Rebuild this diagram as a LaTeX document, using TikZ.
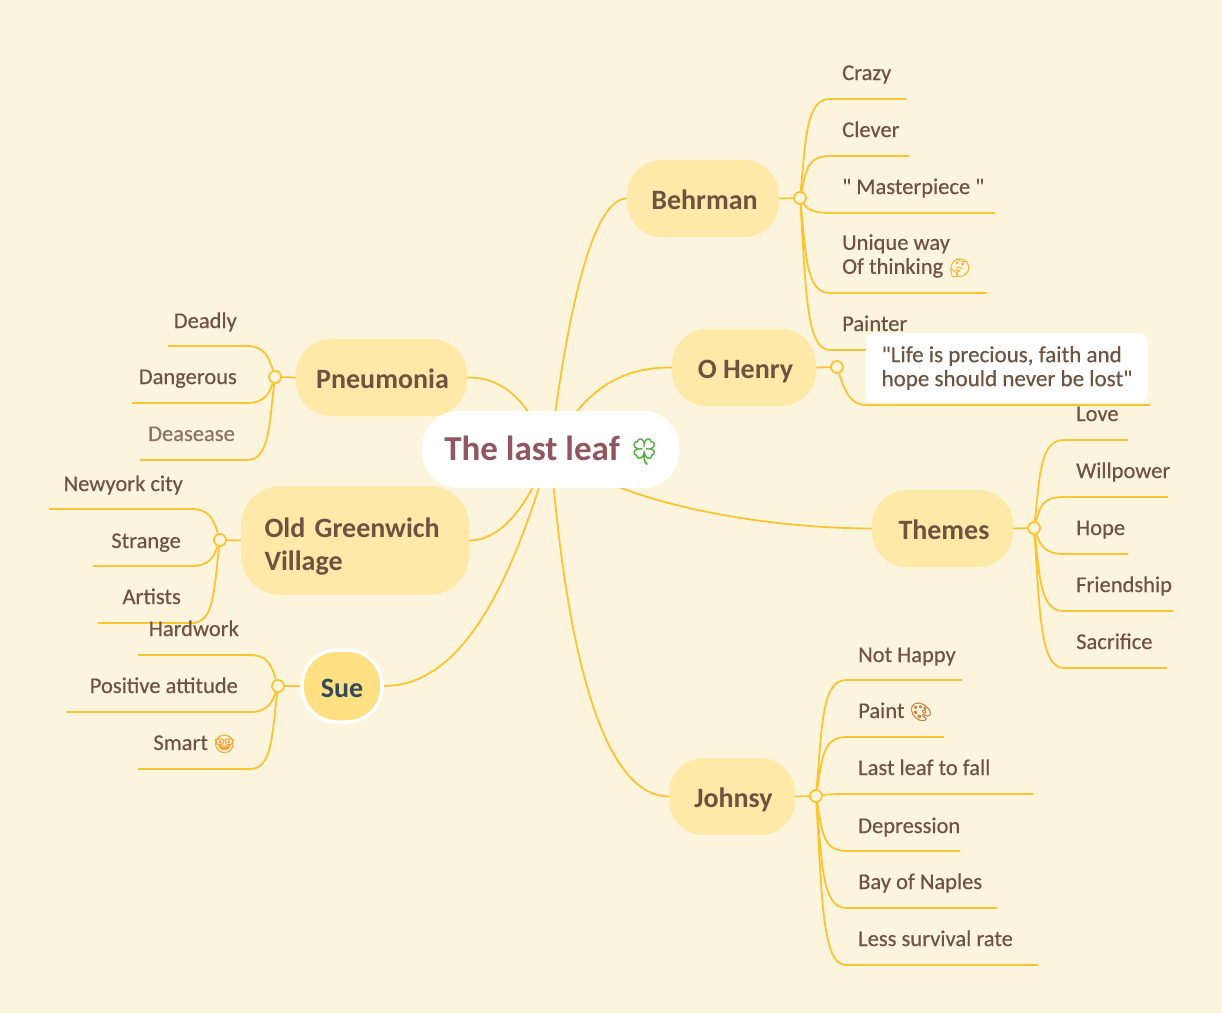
\documentclass[tikz,border=0pt]{standalone}
\usepackage{fontspec}
\setmainfont{Carlito}[Ligatures=TeXOff]
\newfontfamily\leaffont{Carlito}[Ligatures=TeXOff,FakeBold=0.35]
\newfontfamily\emojifont{Noto Emoji}[FakeBold=1.2]
\usetikzlibrary{backgrounds}
\definecolor{paper}{HTML}{FCF4DC}
\definecolor{branchcol}{HTML}{FBC433}
\definecolor{mainfill}{HTML}{FFE9A8}
\definecolor{suefill}{HTML}{FFE082}
\definecolor{inkcol}{HTML}{6D5340}
\definecolor{rootink}{HTML}{915660}
\definecolor{sueink}{HTML}{34495E}
\newcommand{\leafemoji}[2]{{\emojifont\fontsize{18}{18}\selectfont\textcolor[HTML]{#1}{#2}}}
\tikzset{
    rootnode/.style={fill=white,rounded corners=36pt,minimum width=257pt,minimum height=77pt,text=rootink,font=\fontsize{35}{36}\selectfont\bfseries,text height=22pt,text depth=0pt},
    mainnode/.style={fill=mainfill,rounded corners=35pt,minimum height=77pt,text=inkcol,font=\fontsize{28}{33}\selectfont\bfseries,align=left,text height=22pt,text depth=0pt},
    leaftext/.style={inner sep=0pt,text=inkcol,font=\fontsize{22.5}{24}\leaffont,align=left},
    branch/.style={draw=branchcol,line width=1.8pt},
    joint/.style={circle,draw=branchcol,fill=paper,line width=1.8pt,minimum size=12pt,inner sep=0pt}
}
\begin{document}
\begin{tikzpicture}[x=1pt,y=-1pt]
    \useasboundingbox (0,0) rectangle (1222,1013);

    \node[rootnode] (lastleaf) at (550.5,449.5) {\hspace*{4pt}The last leaf {\emojifont\fontsize{26}{26}\selectfont\textcolor[HTML]{4FAE3C}{🍀}}};

    \node[mainnode,minimum width=152pt] (behrman) at (703,198.5) {\hspace*{3pt}Behrman};
    \node[mainnode,minimum width=144pt] (ohenry) at (744,367.5) {\hspace*{3pt}O Henry};
    \node[mainnode,minimum width=141pt] (themes) at (942.5,528.5) {\hspace*{3pt}Themes};
    \node[mainnode,minimum width=126pt] (johnsy) at (732,796.5) {\hspace*{3pt}Johnsy};
    \node[mainnode,minimum width=171pt] (pneumonia) at (381.5,377.5) {\hspace*{2pt}Pneumonia};
    \node[mainnode,minimum width=228pt,minimum height=109pt,rounded corners=40pt,text height=,text depth=26pt,text width=181pt] (greenwich) at (355,540.5) {Old Greenwich\\Village};
    \node[mainnode,minimum width=80pt,minimum height=72pt,fill=suefill,draw=white,line width=3.5pt,text=sueink] (sue) at (342,686) {Sue};

    \node[joint] (behrmandot) at (800,198) {};
    \node[joint] (ohenrydot) at (837,367) {};
    \node[joint] (themesdot) at (1034,528) {};
    \node[joint] (johnsydot) at (816,796) {};
    \node[joint] (pneumoniadot) at (275,377) {};
    \node[joint] (greenwichdot) at (220,540) {};
    \node[joint] (suedot) at (278,686) {};

    \node[leaftext,anchor=base west] (crazy) at (842,80) {Crazy};
    \node[leaftext,anchor=base west] (clever) at (842,137) {Clever};
    \node[leaftext,anchor=base west] (masterpiece) at (842,194) {" Masterpiece "};
    \node[leaftext,anchor=west] (unique) at (842,256) {Unique way\\Of thinking \leafemoji{F2B63C}{🤔}};
    \node[leaftext,anchor=base west] (painter) at (842,331) {Painter};

    \node[leaftext,anchor=base west] (love) at (1076,421) {Love};
    \node[leaftext,anchor=base west] (willpower) at (1076,478) {Willpower};
    \node[leaftext,anchor=base west] (hope) at (1076,535) {Hope};
    \node[leaftext,anchor=base west] (friendship) at (1076,592) {Friendship};
    \node[leaftext,anchor=base west] (sacrifice) at (1076,649) {Sacrifice};

    \node[leaftext,anchor=base west] (nothappy) at (858,662) {Not Happy};
    \node[leaftext,anchor=base west] (paint) at (858,718) {Paint \leafemoji{C9803C}{🎨}};
    \node[leaftext,anchor=base west] (lastfall) at (858,775) {Last leaf to fall};
    \node[leaftext,anchor=base west] (depression) at (858,833) {Depression};
    \node[leaftext,anchor=base west] (naples) at (858,889) {Bay of Naples};
    \node[leaftext,anchor=base west] (survival) at (858,946) {Less survival rate};

    \node[leaftext,anchor=base east] (deadly) at (237,328) {Deadly};
    \node[leaftext,anchor=base east] (dangerous) at (237,384) {Dangerous};
    \node[leaftext,anchor=base east,text=inkcol!80!paper] (deasease) at (235,441) {Deasease};
    \node[leaftext,anchor=base east] (newyork) at (183,491) {Newyork city};
    \node[leaftext,anchor=base east] (strange) at (181,548) {Strange};
    \node[leaftext,anchor=base east] (artists) at (181,604) {Artists};
    \node[leaftext,anchor=base east] (hardwork) at (239,636) {Hardwork};
    \node[leaftext,anchor=base east] (positive) at (238,693) {Positive attitude};
    \node[leaftext,anchor=base east] (smart) at (236,750) {Smart \leafemoji{F0A63A}{🤓}};

    \node[fill=white,rounded corners=9pt,minimum width=282pt,minimum height=70pt,text=inkcol,font=\fontsize{23}{24}\leaffont,align=left] (quote) at (1007,368) {"Life is precious, faith and\\hope should never be lost"};

    \coordinate (crazyend) at (906,99);
    \coordinate (cleverend) at (909,156);
    \coordinate (masterend) at (995,213);
    \coordinate (uniqueend) at (987,293);
    \coordinate (painterend) at (925,350);
    \coordinate (quoteend) at (1150,405);
    \coordinate (loveend) at (1128,440);
    \coordinate (willend) at (1168,497);
    \coordinate (hopeend) at (1128,554);
    \coordinate (friendend) at (1173,611);
    \coordinate (sacrificeend) at (1167,668);
    \coordinate (happyend) at (962,680);
    \coordinate (paintend) at (944,737);
    \coordinate (fallend) at (1033,794);
    \coordinate (depressionend) at (960,851);
    \coordinate (naplesend) at (997,908);
    \coordinate (survivalend) at (1038,965);
    \coordinate (deadlyend) at (168,346);
    \coordinate (dangerousend) at (132,403);
    \coordinate (deaseaseend) at (140,460);
    \coordinate (newyorkend) at (49,509);
    \coordinate (strangeend) at (93,566);
    \coordinate (artistsend) at (98,623);
    \coordinate (hardworkend) at (138,655);
    \coordinate (positiveend) at (66,712);
    \coordinate (smartend) at (138,769);

    \begin{scope}[on background layer]
        \fill[paper] (0,0) rectangle (1222,1013);

        \draw[branch] (lastleaf.center) .. controls (565,330) and (590,198) .. (behrman.west);
        \draw[branch] (lastleaf.center) .. controls (580,400) and (610,367) .. (ohenry.west);
        \draw[branch] (lastleaf.center) .. controls (610,500) and (750,528) .. (themes.west);
        \draw[branch] (lastleaf.center) .. controls (565,640) and (600,796) .. (johnsy.west);
        \draw[branch] (lastleaf.center) .. controls (530,410) and (510,377) .. (pneumonia.east);
        \draw[branch] (lastleaf.center) .. controls (530,500) and (505,540) .. (greenwich.east);
        \draw[branch] (lastleaf.center) .. controls (510,590) and (460,686) .. (sue.east);

        \draw[branch] (behrman.east) -- (behrmandot);
        \draw[branch] (ohenry.east) -- (ohenrydot);
        \draw[branch] (themes.east) -- (themesdot);
        \draw[branch] (johnsy.east) -- (johnsydot);
        \draw[branch] (pneumonia.west) -- (pneumoniadot);
        \draw[branch] (greenwich.west) -- (greenwichdot);
        \draw[branch] (sue.west) -- (suedot);

        \draw[branch] (behrmandot) .. controls (806,138) and (806,99) .. (830,99) -- (crazyend);
        \draw[branch] (behrmandot) .. controls (806,173) and (806,156) .. (830,156) -- (cleverend);
        \draw[branch] (behrmandot) .. controls (806,207) and (810,213) .. (830,213) -- (masterend);
        \draw[branch] (behrmandot) .. controls (806,255) and (806,293) .. (830,293) -- (uniqueend);
        \draw[branch] (behrmandot) .. controls (806,289) and (806,350) .. (830,350) -- (painterend);

        \draw[branch] (ohenrydot) .. controls (843,385) and (848,405) .. (866,405) -- (quoteend);

        \draw[branch] (themesdot) .. controls (1040,475) and (1040,440) .. (1064,440) -- (loveend);
        \draw[branch] (themesdot) .. controls (1040,509) and (1040,497) .. (1064,497) -- (willend);
        \draw[branch] (themesdot) .. controls (1040,544) and (1044,554) .. (1064,554) -- (hopeend);
        \draw[branch] (themesdot) .. controls (1040,578) and (1040,611) .. (1064,611) -- (friendend);
        \draw[branch] (themesdot) .. controls (1040,612) and (1040,668) .. (1064,668) -- (sacrificeend);

        \draw[branch] (johnsydot) .. controls (822,726) and (822,680) .. (846,680) -- (happyend);
        \draw[branch] (johnsydot) .. controls (822,761) and (822,737) .. (846,737) -- (paintend);
        \draw[branch] (johnsydot) .. controls (822,795) and (830,794) .. (846,794) -- (fallend);
        \draw[branch] (johnsydot) .. controls (822,829) and (822,851) .. (846,851) -- (depressionend);
        \draw[branch] (johnsydot) .. controls (822,863) and (822,908) .. (846,908) -- (naplesend);
        \draw[branch] (johnsydot) .. controls (822,897) and (822,965) .. (846,965) -- (survivalend);

        \draw[branch] (pneumoniadot) .. controls (269,358) and (265,346) .. (247,346) -- (deadlyend);
        \draw[branch] (pneumoniadot) .. controls (269,393) and (265,403) .. (247,403) -- (dangerousend);
        \draw[branch] (pneumoniadot) .. controls (269,427) and (269,460) .. (247,460) -- (deaseaseend);

        \draw[branch] (greenwichdot) .. controls (214,521) and (210,509) .. (192,509) -- (newyorkend);
        \draw[branch] (greenwichdot) .. controls (214,556) and (210,566) .. (192,566) -- (strangeend);
        \draw[branch] (greenwichdot) .. controls (214,590) and (214,623) .. (192,623) -- (artistsend);

        \draw[branch] (suedot) .. controls (272,667) and (268,655) .. (250,655) -- (hardworkend);
        \draw[branch] (suedot) .. controls (272,702) and (268,712) .. (250,712) -- (positiveend);
        \draw[branch] (suedot) .. controls (272,736) and (272,769) .. (250,769) -- (smartend);
    \end{scope}
\end{tikzpicture}
\end{document}
